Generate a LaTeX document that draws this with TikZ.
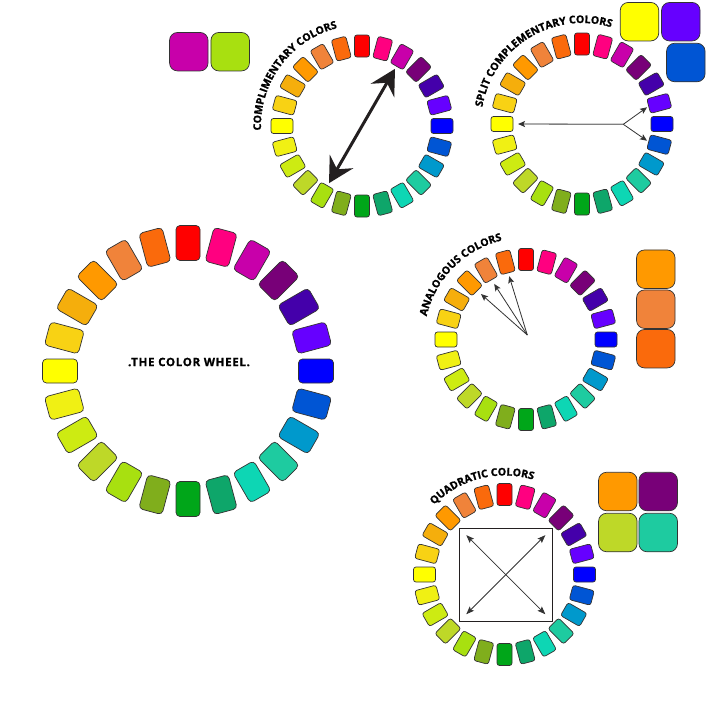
\documentclass[tikz,border=0pt]{standalone}
\usepackage{fontspec}
\setsansfont{Open Sans}[BoldFeatures={FakeBold=1.2}]
\newfontfamily\titlefont{Open Sans}[LetterSpace=6,BoldFeatures={FakeBold=1.2}]
\usetikzlibrary{arrows.meta,decorations.text}
\definecolor{wc0}{HTML}{FF0000}
\definecolor{wc1}{HTML}{FF0080}
\definecolor{wc2}{HTML}{C800AA}
\definecolor{wc3}{HTML}{780078}
\definecolor{wc4}{HTML}{4400AA}
\definecolor{wc5}{HTML}{6600FF}
\definecolor{wc6}{HTML}{0000FF}
\definecolor{wc7}{HTML}{0055D4}
\definecolor{wc8}{HTML}{0099CC}
\definecolor{wc9}{HTML}{1ECBA0}
\definecolor{wc10}{HTML}{0DD6B4}
\definecolor{wc11}{HTML}{0EA66A}
\definecolor{wc12}{HTML}{00A619}
\definecolor{wc13}{HTML}{80AE1C}
\definecolor{wc14}{HTML}{A8E010}
\definecolor{wc15}{HTML}{BED828}
\definecolor{wc16}{HTML}{CDEB12}
\definecolor{wc17}{HTML}{F0F014}
\definecolor{wc18}{HTML}{FFFF00}
\definecolor{wc19}{HTML}{F8D214}
\definecolor{wc20}{HTML}{F5AE0C}
\definecolor{wc21}{HTML}{FF9900}
\definecolor{wc22}{HTML}{F0833A}
\definecolor{wc23}{HTML}{FA6A0C}
\definecolor{inkc}{HTML}{231F20}
\definecolor{edgec}{HTML}{333333}
\definecolor{linegray}{HTML}{808080}
\newcommand\lblfmt{\sffamily\bfseries\fontsize{10.6}{12}\selectfont}
% #1 name, #2 cx, #3 cy, #4 R, #5 w, #6 h, #7 corner radius
\newcommand\mywheel[7]{%
  \foreach \i in {0,...,23}{%
    \node[tile, minimum width=#5, minimum height=#6, rounded corners=#7,
          rotate={-15*\i}, fill=wc\i] (#1-\i)
          at ({#2+#4*cos(90-15*\i)},{#3+#4*sin(90-15*\i)}) {};
  }}
% #1 cx, #2 cy, #3 baseline radius, #4 centre angle, #5 text
\newcommand\arclabel[5]{%
  \path[decorate, decoration={text along path, text align=center,
        text={|\lblfmt|#5}}]
    ({#1+#3*cos(#4+80)},{#2+#3*sin(#4+80)})
    arc[start angle={#4+80}, end angle={#4-80}, radius=#3];}
\begin{document}
\begin{tikzpicture}[x=1pt,y=1pt,
  tile/.style={draw=edgec, line width=0.7pt, inner sep=0pt, outer sep=0pt},
  swatch/.style={draw=edgec, line width=0.7pt, minimum size=38.5pt,
                 rounded corners=8pt, inner sep=0pt},
  bigarrow/.style={draw=inkc, line width=3pt,
                   {Stealth[length=25pt,width=27pt,inset=9pt]}-{Stealth[length=25pt,width=27pt,inset=9pt]}},
  thinarrow/.style={draw=edgec, line width=0.8pt, -{Stealth[length=7pt,width=6pt,inset=1.5pt]}},
  dblthin/.style={draw=edgec, line width=0.8pt,
                  {Stealth[length=8pt,width=6pt,inset=1.5pt]}-{Stealth[length=8pt,width=6pt,inset=1.5pt]}}]
\fill[white] (0,0) rectangle (720,-720);
\useasboundingbox (0,0) rectangle (720,-720);

% big wheel
\mywheel{bw}{188}{-371}{128}{24pt}{35pt}{4pt}
\node[font=\titlefont\bfseries\fontsize{11.5}{13}\selectfont, inner sep=0pt] (title) at (189,-362) {.THE COLOR WHEEL.};

% complementary
\mywheel{cw}{362}{-126}{80}{15pt}{22pt}{2.5pt}
\arclabel{362}{-126}{101}{143.3}{COMPLIMENTARY COLORS}
\draw[bigarrow, shorten <=3pt, shorten >=3pt] (cw-2.south) -- (cw-14.south);
\node[swatch, fill=wc2] (cs1) at (188.8,-51.7) {};
\node[swatch, fill=wc14] (cs2) at (230.2,-51.7) {};

% split complementary
\mywheel{sw}{582}{-124}{80}{15pt}{22pt}{2.5pt}
\arclabel{582}{-124}{101}{121.8}{SPLIT COMPLEMENTARY COLORS}
\coordinate (so) at (623.3,-124.3);
\draw[draw=linegray, line width=1.3pt, -{Stealth[length=7pt,width=6pt,inset=1.5pt,color=edgec]}, shorten >=5pt] (so) -- (sw-18.south);
\draw[thinarrow, shorten >=2pt] (so) -- (sw-5.south);
\draw[thinarrow, shorten >=2pt] (so) -- (sw-7.south);
\node[swatch, fill=wc18] (ss1) at (639.5,-21.7) {};
\node[swatch, fill=wc5] (ss2) at (680.8,-21.7) {};
\node[swatch, fill=wc7] (ss3) at (685.8,-62.5) {};

% analogous
\mywheel{aw}{526}{-339.5}{80}{15pt}{22pt}{2.5pt}
\arclabel{526}{-339.5}{102}{135.25}{ANALOGOUS COLORS}
\coordinate (ao) at (527.3,-335);
\draw[thinarrow, shorten >=5pt] (ao) -- (aw-21.south);
\draw[thinarrow, shorten >=5pt] (ao) -- (aw-22.south);
\draw[thinarrow, shorten >=3.5pt] (ao) -- (aw-23.south);
\node[swatch, fill=wc21] (as1) at (655.8,-269.2) {};
\node[swatch, fill=wc22] (as2) at (655.8,-309.2) {};
\node[swatch, fill=wc23] (as3) at (655.8,-348.7) {};

% quadratic
\mywheel{qw}{504.5}{-574.5}{80}{15pt}{22pt}{2.5pt}
\arclabel{504.5}{-574.5}{99}{104.3}{QUADRATIC COLORS}
\node[draw=inkc, line width=0.9pt, minimum size=93pt, inner sep=0pt] (qbox) at (505.8,-574.7) {};
\draw[dblthin] ([shift={(7.4,-7.4)}]qbox.north west) -- ([shift={(-7.4,7.4)}]qbox.south east);
\draw[dblthin] ([shift={(-7.4,-7.4)}]qbox.north east) -- ([shift={(7.4,7.4)}]qbox.south west);
\node[swatch, fill=wc21] (qs1) at (617.8,-491.5) {};
\node[swatch, fill=wc3] (qs2) at (658.2,-491.5) {};
\node[swatch, fill=wc15] (qs3) at (617.8,-532.5) {};
\node[swatch, fill=wc9] (qs4) at (658.2,-532.5) {};
\end{tikzpicture}
\end{document}
